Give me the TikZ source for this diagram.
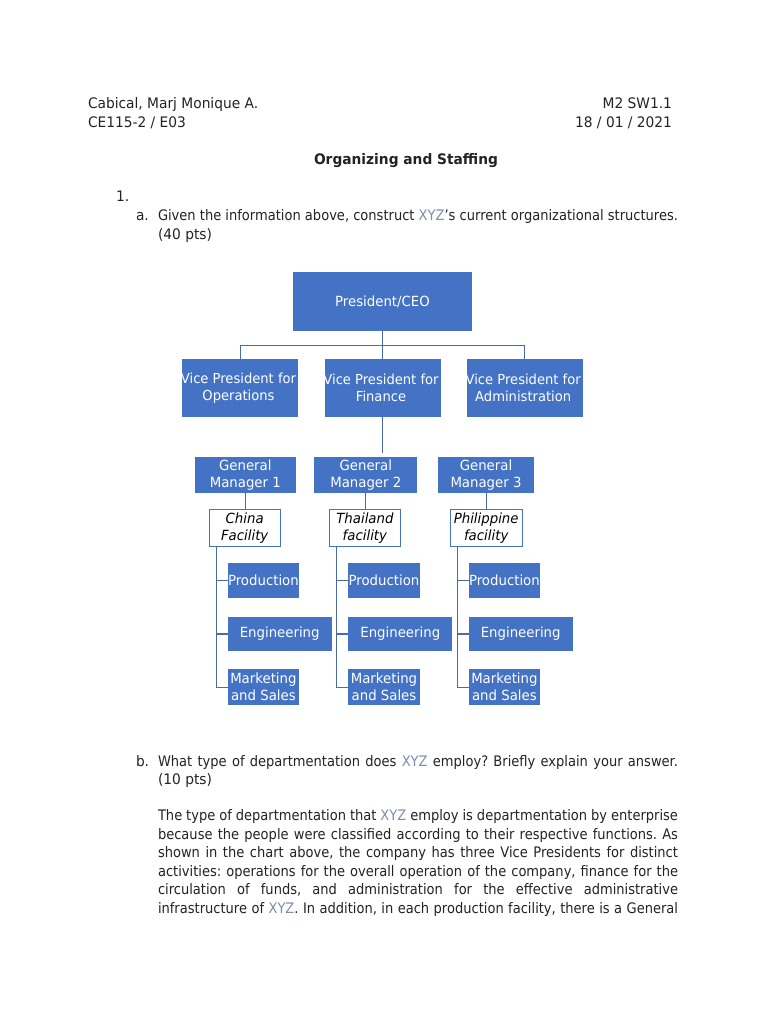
\documentclass[tikz,border=0pt]{standalone}
\usepackage{fontspec}
\setmainfont{DejaVu Sans}[FakeStretch=0.95]
\newfontfamily\parafont{DejaVu Sans}[FakeStretch=0.9]
\frenchspacing
\definecolor{boxblue}{RGB}{68,114,196}
\definecolor{lineblue}{RGB}{74,106,168}
\definecolor{xyzc}{RGB}{125,140,175}
\definecolor{txt}{RGB}{35,35,35}
\newcommand{\xyz}{\textcolor{xyzc}{XYZ}}
\begin{document}
\begin{tikzpicture}[x=1pt,y=-1pt,
  every node/.style={inner sep=0pt, outer sep=0pt},
  body/.style={anchor=base west, text=txt, font=\fontsize{14.5}{18}\selectfont},
  bodyr/.style={anchor=base east, text=txt, font=\fontsize{14.5}{18}\selectfont},
  jline/.style={anchor=base west, text=txt, font=\fontsize{14.5}{18}\parafont},
  bluebox/.style={draw=none, fill=boxblue, text=white, align=center, font=\fontsize{14}{17}\selectfont},
  boxtext/.style={text=white, align=center, font=\fontsize{13.8}{17}\selectfont},
  facbox/.style={draw=boxblue, line width=0.9pt, fill=white, text=black, align=center, font=\fontsize{14}{17}\selectfont\itshape},
  conn/.style={draw=lineblue, line width=1pt},
  thick conn/.style={draw=lineblue, line width=2.2pt}]
\useasboundingbox[fill=white] (0,0) rectangle (768,1024);

% header
\node[body] (name) at (88,109) {Cabical, Marj Monique A.};
\node[body] (sect) at (88,128) {CE115-2 / E03};
\node[bodyr] (code) at (672,109) {M2 SW1.1};
\node[bodyr] (date) at (672,128) {18 / 01 / 2021};
\node[anchor=base, text=txt, font=\fontsize{14.5}{18}\selectfont\bfseries] (title) at (406,165) {Organizing and Staffing};
\node[body] (n1) at (116,202) {1.};
\node[body] (qa) at (136,221) {a.};
\node[jline] (qa1) at (158,221) {\makebox[520pt][s]{Given the information above, construct \xyz’s current organizational structures.}};
\node[body] (qa2) at (158,240) {(40 pts)};

% chart
\node[bluebox, minimum width=179pt, minimum height=59pt] (pres) at (382.5,301.5) {President/CEO};
\node[bluebox, minimum width=116.6pt, minimum height=58.3pt] (vp1) at (240,388) {};
\node[bluebox, minimum width=116pt, minimum height=58.3pt] (vp2) at (382.5,388) {};
\node[bluebox, minimum width=116pt, minimum height=58.3pt] (vp3) at (524.7,388) {};
\begin{scope}
  \clip (vp1.north west) rectangle (vp1.south east);
  \node[boxtext] (vp1t) at ([xshift=-1.5pt]vp1.center) {Vice President for\\Operations};
\end{scope}
\begin{scope}
  \clip (vp2.north west) rectangle (vp2.south east);
  \node[boxtext] (vp2t) at ([xshift=-1.5pt]vp2.center) {Vice President for\\Finance};
\end{scope}
\begin{scope}
  \clip (vp3.north west) rectangle (vp3.south east);
  \node[boxtext] (vp3t) at ([xshift=-1.5pt]vp3.center) {Vice President for\\Administration};
\end{scope}
\coordinate (bus) at (0,345);
\draw[conn] (pres.south) -- (pres.south |- bus);
\draw[conn] (vp1.north |- bus) -- (vp3.north |- bus);
\draw[conn] (vp1.north |- bus) -- (vp1.north);
\draw[conn] (vp2.north |- bus) -- (vp2.north);
\draw[conn] (vp3.north |- bus) -- (vp3.north);
\coordinate (vpend) at (382.5,453);
\draw[conn] (vp2.south) -- (vpend);

\node[bluebox, minimum width=100.7pt, minimum height=35.4pt] (gm1) at (245.3,475) {General\\Manager 1};
\node[bluebox, minimum width=103pt, minimum height=35.4pt] (gm2) at (365.8,475) {General\\Manager 2};
\node[bluebox, minimum width=96.6pt, minimum height=35.4pt] (gm3) at (486,475) {General\\Manager 3};

\node[facbox, minimum width=70.7pt, minimum height=36.7pt] (fac1) at (244.7,527.7) {China\\Facility};
\node[facbox, minimum width=71.7pt, minimum height=36.7pt] (fac2) at (364.9,527.7) {Thailand\\facility};
\node[facbox, minimum width=72.3pt, minimum height=36.7pt] (fac3) at (486.2,527.7) {Philippine\\facility};
\draw[conn] (gm1.south) -- (gm1.south |- fac1.north);
\draw[conn] (gm2.south) -- (gm2.south |- fac2.north);
\draw[conn] (gm3.south) -- (gm3.south |- fac3.north);

\foreach \i/\dx in {1/0, 2/120.6, 3/241}{
  \node[bluebox, minimum width=71.3pt, minimum height=35.6pt] (prod\i) at (263.4+\dx,580.5) {Production};
  \node[bluebox, minimum width=104pt, minimum height=34.3pt] (eng\i) at (279.7+\dx,633.9) {Engineering};
  \node[bluebox, minimum width=71.3pt, minimum height=35.7pt] (mkt\i) at (263.4+\dx,687.2) {Marketing\\and Sales};
  \coordinate (rail\i) at (216+\dx,0);
  \draw[conn] (rail\i |- fac\i.south) -- (rail\i |- mkt\i.west) -- (mkt\i.west);
  \draw[conn] (rail\i |- prod\i.west) -- (prod\i.west);
  \draw[thick conn] (rail\i |- eng\i.west) -- (eng\i.west);
}

% question b
\node[body] (qb) at (136,766) {b.};
\node[jline] (qb1) at (158,766) {\makebox[520pt][s]{What type of departmentation does \xyz\ employ? Briefly explain your answer.}};
\node[body] (qb2) at (158,784) {(10 pts)};

\node[jline] (p1) at (158,820.5) {\makebox[520pt][s]{The type of departmentation that \xyz\ employ is departmentation by enterprise}};
\node[jline] (p2) at (158,839.1) {\makebox[520pt][s]{because the people were classified according to their respective functions. As}};
\node[jline] (p3) at (158,857.7) {\makebox[520pt][s]{shown in the chart above, the company has three Vice Presidents for distinct}};
\node[jline] (p4) at (158,876.3) {\makebox[520pt][s]{activities: operations for the overall operation of the company, finance for the}};
\node[jline] (p5) at (158,894.9) {\makebox[520pt][s]{circulation of funds, and administration for the effective administrative}};
\node[jline] (p6) at (158,913.5) {\makebox[520pt][s]{infrastructure of \xyz. In addition, in each production facility, there is a General}};
\end{tikzpicture}
\end{document}
